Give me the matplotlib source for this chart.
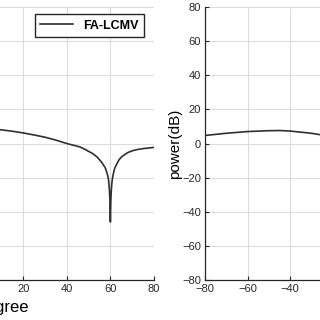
import matplotlib
matplotlib.use("Agg")
from matplotlib import pyplot as plt

plt.rcParams['font.family'] = ['Liberation Sans', 'DejaVu Sans']

# left panel: FA-LCMV beam pattern (only x > ~10 is visible in the crop)
angle_l = [-80, -60, -40, -20, 0, 10, 15, 20, 25, 30, 35, 40, 43, 46, 48,
           50.6, 52, 54, 55, 56, 57, 57.5, 58, 58.5, 59, 59.3, 59.6, 59.8,
           60, 60.2, 60.4, 60.7, 61, 61.5, 62, 63, 64, 65, 66, 68, 70,
           72.5, 75, 80]
power_l = [5, 7, 8.5, 9.5, 9.5, 8, 7.2, 6.2, 5, 3.7, 2, 0, -1, -2, -3.2,
           -5, -6, -8, -9.5, -11, -13, -13.8, -15.5, -17.5, -20, -23, -28, -34,
           -46, -34, -28, -23, -20, -17, -14.5, -11.8, -9.5, -8, -7, -5.3, -4.3,
           -3.5, -3, -2.3]

# right panel: only the left part is visible
angle_r = [-80, -70, -60, -50, -45, -40, -30, -26, -20]
power_r = [4.7, 6, 7, 7.5, 7.6, 7.3, 6, 5.2, 4]

ticks = [-80, -60, -40, -20, 0, 20, 40, 60, 80]
axcol = '#262626'

fig = plt.figure(figsize=(3.2, 3.2), dpi=100)
ax1 = fig.add_axes([-195/320, 40/320, 349/320, 273/320])
ax2 = fig.add_axes([205/320, 40/320, 340/320, 273/320])

for ax in (ax1, ax2):
    ax.set_xlim(-80, 80)
    ax.set_ylim(-80, 80)
    ax.set_xticks(ticks)
    ax.set_yticks(ticks)
    ax.grid(True, color='#dcdcdc', linewidth=0.8)
    ax.set_axisbelow(True)
    ax.tick_params(direction='in', length=3, width=0.8, colors=axcol,
                   labelsize=8, pad=3)
    for s in ('top', 'right'):
        ax.spines[s].set_visible(False)
    for s in ('left', 'bottom'):
        ax.spines[s].set_color(axcol)
        ax.spines[s].set_linewidth(0.9)

ax1.plot(angle_l, power_l, color='#303030', linewidth=1.2, label='FA-LCMV')
ax1.set_xlabel('Angle/degree', fontsize=12, color='black', labelpad=4)
ax1.legend(loc='upper right', bbox_to_anchor=(144/320, 1 - 14/320),
           bbox_transform=fig.transFigure, borderaxespad=0, fancybox=False,
           edgecolor=axcol, prop={'weight': 'bold', 'size': 9},
           handlelength=2.6, borderpad=0.45, framealpha=1)
ax1.get_legend().get_frame().set_linewidth(1.0)

ax2.plot(angle_r, power_r, color='#303030', linewidth=1.2)
ax2.set_ylabel('power(dB)', fontsize=11, color='black', labelpad=0)

fig.savefig('out.png', dpi=100)
